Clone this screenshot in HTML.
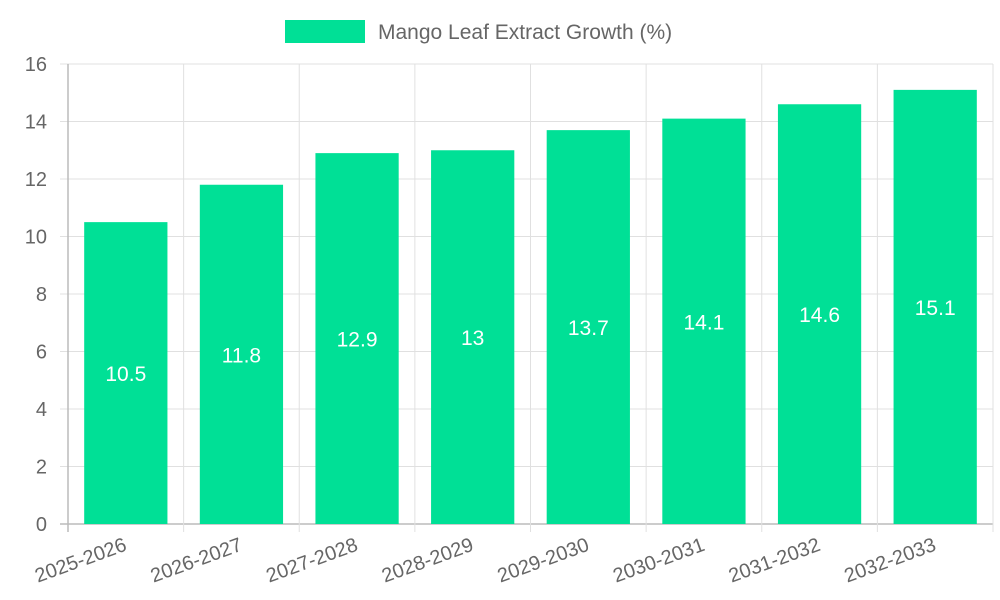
<!DOCTYPE html>
<html><head><meta charset="utf-8"><style>
html,body{margin:0;padding:0;background:#fff;}
svg{display:block;font-family:"Liberation Sans",sans-serif;}
</style></head><body>
<svg id="chart" width="1000" height="600" viewBox="0 0 1000 600">
<g>
<rect x="285" y="20" width="80" height="23" fill="#00e096"></rect>
<text x="378" y="39" font-size="21" fill="#666">Mango Leaf Extract Growth (%)</text>
</g>
<g id="grid"></g>
<g id="bars"></g>
<g id="xlabels"></g>
<g id="ylabels"></g>
</svg>
<script>
const categories = ["2025-2026","2026-2027","2027-2028","2028-2029","2029-2030","2030-2031","2031-2032","2032-2033"];
const values = [10.5,11.8,12.9,13,13.7,14.1,14.6,15.1];
const yTicks = [0,2,4,6,8,10,12,14,16];

const L=68,R=993,T=64,B=524,YMAX=16;
const NS="http://www.w3.org/2000/svg";
const bw=(R-L)/categories.length;
function y(v){return B-(v/YMAX)*(B-T);}
function x(i){return L+i*bw;}
function mk(tag,attrs,parent){const e=document.createElementNS(NS,tag);for(const k in attrs)e.setAttribute(k,attrs[k]);parent.appendChild(e);return e;}
const grid=document.getElementById('grid'),bars=document.getElementById('bars'),xl=document.getElementById('xlabels'),yl=document.getElementById('ylabels');

yTicks.forEach(function(t){
  const ln=mk('line',{x1:60,x2:R,y1:y(t),y2:y(t),stroke:t===0?'#bbb':'#e0e0e0','stroke-width':t===0?1.5:1},grid);
  
  
  const tx=mk('text',{x:47,y:y(t)+7,'text-anchor':'end','font-size':20,fill:'#666'},yl);
  tx.textContent=t;
  
  
});
for(let i=0;i<=categories.length;i++){
  const ln=mk('line',{x1:x(i),x2:x(i),y1:T,y2:B+8,stroke:i===0?'#bbb':'#e0e0e0','stroke-width':i===0?1.5:1},grid);
  
  
}
categories.forEach(function(c,i){
  const w=bw*0.72, cx=x(i)+bw/2;
  const r=mk('rect',{x:cx-w/2,y:y(values[i]),width:w,height:B-y(values[i]),fill:'#00e096'},bars);
  
  
  const vt=mk('text',{x:cx,y:(y(values[i])+B)/2+8,'text-anchor':'middle','font-size':21,fill:'#fff'},bars);
  vt.textContent=values[i];
  
  
  const lt=mk('text',{x:cx+2,y:B+26,'text-anchor':'end','font-size':20,fill:'#666',transform:'rotate(-20 '+(cx+2)+' '+(B+26)+')'},xl);
  lt.textContent=c;
  
  
});
</script>
</body></html>
